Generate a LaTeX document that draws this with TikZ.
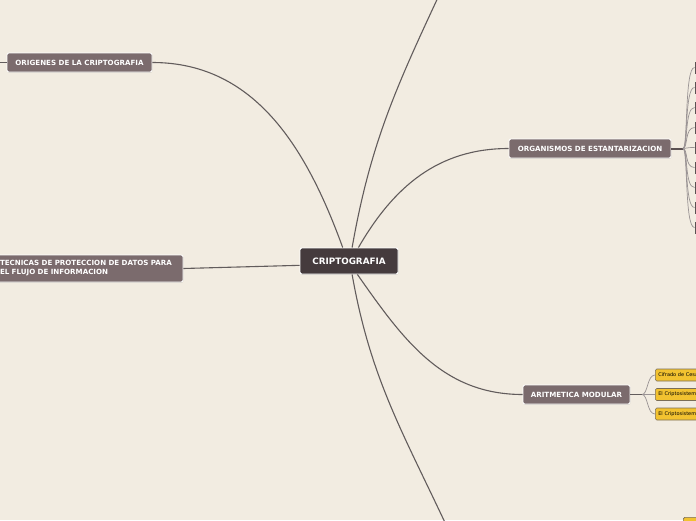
\documentclass[tikz,border=0pt]{standalone}
\usepackage{fontspec}
\setmainfont{DejaVu Sans}
\usetikzlibrary{shadows}
\definecolor{paper}{HTML}{F2ECE1}
\definecolor{centralfill}{HTML}{453B3D}
\definecolor{topicfill}{HTML}{7B6B6D}
\definecolor{subfill}{HTML}{F2C230}
\definecolor{subborder}{HTML}{7A6E58}
\definecolor{leaffill}{HTML}{5B5152}
\definecolor{branchcol}{HTML}{625C5C}
\definecolor{twigcol}{HTML}{9A9394}
\tikzset{
  central/.style={rectangle,rounded corners=2pt,draw=white,line width=0.9pt,fill=centralfill,text=white,
    font=\fontsize{8.8}{10}\selectfont\bfseries,minimum width=98pt,minimum height=26pt,inner sep=2pt,
    drop shadow={opacity=0.25,shadow xshift=0.4pt,shadow yshift=-0.8pt}},
  topic/.style={rectangle,rounded corners=2pt,draw=white,line width=0.8pt,fill=topicfill,text=white,
    font=\fontsize{7.1}{9}\selectfont\bfseries,minimum height=19pt,inner xsep=6pt,inner ysep=2pt,
    drop shadow={opacity=0.25,shadow xshift=0.4pt,shadow yshift=-0.8pt}},
  subtopic/.style={rectangle,rounded corners=1.5pt,draw=subborder,line width=0.6pt,fill=subfill,text=black,
    font=\fontsize{5}{6}\selectfont,minimum height=12pt,text width=70pt,align=left,inner xsep=3pt,anchor=west},
  leaf/.style={rectangle,draw=leaffill,fill=leaffill,minimum width=20pt,minimum height=11pt,anchor=west},
  branch/.style={draw=branchcol,line width=1.1pt},
  twig/.style={draw=twigcol,line width=0.7pt}
}
\begin{document}
\begin{tikzpicture}[x=1pt,y=1pt]
        \useasboundingbox (0,0) rectangle (696,-520);
        \clip (0,0) rectangle (696,-520);
        \fill [paper] (0,0) rectangle (696,-520);

        % main topics
        \draw (349,-261) node (crypto) [central] {CRIPTOGRAFIA};
        \draw (79.5,-62.5) node (origenes) [topic,minimum width=145pt] {ORIGENES DE LA CRIPTOGRAFIA};
        \draw (87.5,-268.5) node (tecnicas) [topic,text width=175pt,align=left,minimum height=27pt,inner xsep=8pt] {TECNICAS DE PROTECCION DE DATOS PARA\\EL FLUJO DE INFORMACION};
        \draw (590,-148.5) node (organismos) [topic,minimum width=162pt] {ORGANISMOS DE ESTANTARIZACION};
        \draw (576.5,-394.5) node (aritmetica) [topic,minimum width=107pt] {ARITMETICA MODULAR};

        \coordinate (topend) at (441,9);
        \coordinate (bottomend) at (448,-529);
        \coordinate (origenesleft) at (-5,-62.5);
        \coordinate (orgfork) at (683,-148.5);
        \coordinate (arifork) at (642,-394.5);

        % subtopics
        \draw (655,-375) node (cesar) [subtopic] {Cifrado de Cesar};
        \draw (655,-394.5) node (cripto1) [subtopic] {El Criptosistema};
        \draw (655,-414) node (cripto2) [subtopic] {El Criptosistema};
        \draw (683,-517) node (lowsub) [subtopic,anchor=north west] {};

        % branches from the centre
        \path [branch] (crypto.115) to [out=110,in=0] (origenes.east);
        \path [branch] (crypto.77) to [out=80,in=-115] (topend);
        \path [branch] (crypto.55) to [out=60,in=180] (organismos.west);
        \path [branch] (crypto.185) -- (tecnicas.east);
        \path [branch] (crypto.-58) to [out=-55,in=180] (aritmetica.west);
        \path [branch] (crypto.-77) to [out=-80,in=115] (bottomend);
        \path [branch] (origenes.west) -- (origenesleft);

        % fork of organismos
        \draw [leaffill,line width=2pt] (organismos.east) -- (orgfork);
        \foreach \y [count=\i] in {67.5,87.5,...,227.5} {
            \draw (694.5,-\y) node (org\i) [leaf] {};
            \path [twig] (orgfork) .. controls +(5,0) and +(-10,0) .. (org\i.west);
        }

        % fork of aritmetica
        \draw [branchcol,line width=1pt] (aritmetica.east) -- (arifork);
        \path [twig] (arifork) .. controls +(6,0) and +(-8,0) .. (cesar.west);
        \path [twig] (arifork) -- (cripto1.west);
        \path [twig] (arifork) .. controls +(6,0) and +(-8,0) .. (cripto2.west);
    \end{tikzpicture}
\end{document}
